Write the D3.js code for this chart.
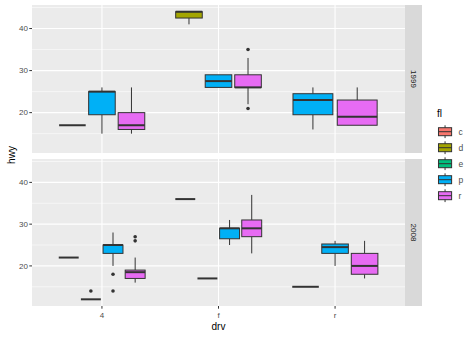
<!DOCTYPE html>
<html><head><meta charset="utf-8">
<script src="https://cdn.jsdelivr.net/npm/d3@7"></script>
<style>body{margin:0;background:#fff}svg{display:block;font-family:"Liberation Sans",Arial,sans-serif}</style>
</head><body>
<script>
// ---- data ----
const years = ["1999", "2008"];
const drvs = ["4", "f", "r"];
const fls = ["c", "d", "e", "p", "r"];
const flColors = ["#F8766D", "#A3A500", "#00BF7D", "#00B0F6", "#E76BF3"];
const yTicks = [20, 30, 40];
const yMinorTicks = [15, 25, 35, 45];
const yDomain = [10.4, 45.6];

const boxYear = ["1999","1999","1999","1999","1999","1999","1999","1999",
                 "2008","2008","2008","2008","2008","2008","2008","2008","2008","2008","2008"];
const boxDrv  = ["4","4","4","f","f","f","r","r",
                 "4","4","4","4","f","f","f","f","r","r","r"];
const boxFl   = ["d","p","r","d","p","r","p","r",
                 "d","e","p","r","c","e","p","r","e","p","r"];
const boxMin  = [17, 15, 15, 41, 26, 22, 16, 17,   22, 12, 20, 16, 36, 17, 25, 23, 15, 20, 17];
const boxQ1   = [17, 19.5, 16, 42.5, 26, 26, 19.5, 17,   22, 12, 23, 17, 36, 17, 26.5, 27, 15, 23, 18];
const boxMed  = [17, 25, 17, 44, 27.5, 26, 23, 19,   22, 12, 25, 18.5, 36, 17, 29, 29, 15, 24.5, 20];
const boxQ3   = [17, 25, 20, 44, 29, 29, 24.5, 23,   22, 12, 25, 19, 36, 17, 29, 31, 15, 25.25, 23];
const boxMax  = [17, 26, 26, 44, 29, 33, 26, 26,   22, 12, 28, 22, 36, 17, 31, 37, 15, 26, 26];
const boxOut  = [[], [], [], [], [], [35, 21], [], [],
                 [], [14], [18, 14], [26, 27], [], [], [], [], [], [], []];

// ---- layout ----
const W = 474, H = 338;
const panelX = [32, 405];
const panelsY = [[5, 153], [159, 306]];
const stripW = 17;
const dodgeWidth = 0.76;
const gray20 = "#333333", gray30 = "#4d4d4d";

const svg = d3.select("body").append("svg").attr("width", W).attr("height", H);
const x = d3.scaleLinear().domain([0.4, 3.6]).range(panelX);

const boxes = boxYear.map((yr, i) => ({
  yr, drv: boxDrv[i], fl: boxFl[i], min: boxMin[i], q1: boxQ1[i], med: boxMed[i],
  q3: boxQ3[i], max: boxMax[i], out: boxOut[i]
}));

years.forEach((yr, pi) => {
  const [top, bot] = panelsY[pi];
  const y = d3.scaleLinear().domain(yDomain).range([bot, top]);
  const g = svg.append("g");
  g.append("rect").attr("x", panelX[0]).attr("y", top).attr("width", panelX[1] - panelX[0])
    .attr("height", bot - top).attr("fill", "#ebebeb");
  g.selectAll(".minor").data(yMinorTicks.filter(v => v > yDomain[0] && v < yDomain[1])).join("line")
    .attr("x1", panelX[0]).attr("x2", panelX[1]).attr("y1", d => y(d)).attr("y2", d => y(d))
    .attr("stroke", "#fff").attr("stroke-width", 0.55);
  g.selectAll(".major").data(yTicks).join("line")
    .attr("x1", panelX[0]).attr("x2", panelX[1]).attr("y1", d => y(d)).attr("y2", d => y(d))
    .attr("stroke", "#fff").attr("stroke-width", 1.1);
  g.selectAll(".vmajor").data(drvs).join("line")
    .attr("x1", (d, i) => x(i + 1)).attr("x2", (d, i) => x(i + 1)).attr("y1", top).attr("y2", bot)
    .attr("stroke", "#fff").attr("stroke-width", 1.1);

  // boxes
  drvs.forEach((dv, di) => {
    const grp = boxes.filter(b => b.yr === yr && b.drv === dv)
      .sort((a, b) => fls.indexOf(a.fl) - fls.indexOf(b.fl));
    const n = grp.length;
    const slot = dodgeWidth / n;
    grp.forEach((b, k) => {
      const cx = di + 1 - dodgeWidth / 2 + slot * (k + 0.5);
      const bw = slot * 0.9;
      const x0 = x(cx - bw / 2), x1 = x(cx + bw / 2), xc = x(cx);
      const col = flColors[fls.indexOf(b.fl)];
      g.append("line").attr("x1", xc).attr("x2", xc).attr("y1", y(b.q3)).attr("y2", y(b.max))
        .attr("stroke", gray20).attr("stroke-width", 1);
      g.append("line").attr("x1", xc).attr("x2", xc).attr("y1", y(b.q1)).attr("y2", y(b.min))
        .attr("stroke", gray20).attr("stroke-width", 1);
      g.append("rect").attr("x", x0).attr("y", y(b.q3)).attr("width", x1 - x0)
        .attr("height", Math.max(0, y(b.q1) - y(b.q3))).attr("fill", col)
        .attr("stroke", gray20).attr("stroke-width", 1);
      g.append("line").attr("x1", x0).attr("x2", x1).attr("y1", y(b.med)).attr("y2", y(b.med))
        .attr("stroke", gray20).attr("stroke-width", 2);
      g.selectAll(null).data(b.out).join("circle")
        .attr("cx", xc).attr("cy", d => y(d)).attr("r", 1.8).attr("fill", gray20);
    });
  });

  // y axis
  g.selectAll(".yt").data(yTicks).join("line")
    .attr("x1", panelX[0] - 2.7).attr("x2", panelX[0]).attr("y1", d => y(d)).attr("y2", d => y(d))
    .attr("stroke", gray20).attr("stroke-width", 1);
  g.selectAll(".yl").data(yTicks).join("text")
    .attr("x", panelX[0] - 4).attr("y", d => y(d)).attr("dy", "0.35em")
    .attr("text-anchor", "end").attr("font-size", 8).attr("fill", gray30).text(d => d);

  // strip
  g.append("rect").attr("x", panelX[1]).attr("y", top).attr("width", stripW).attr("height", bot - top)
    .attr("fill", "#d9d9d9");
  const sx = panelX[1] + stripW / 2, sy = (top + bot) / 2;
  g.append("text").attr("transform", `translate(${sx},${sy}) rotate(90)`)
    .attr("text-anchor", "middle").attr("dy", "0.35em").attr("font-size", 8)
    .attr("fill", "#1a1a1a").text(yr);
});

// x axis
const xb = panelsY[1][1];
svg.selectAll(".xt").data(drvs).join("line")
  .attr("x1", (d, i) => x(i + 1)).attr("x2", (d, i) => x(i + 1)).attr("y1", xb).attr("y2", xb + 2.7)
  .attr("stroke", gray20).attr("stroke-width", 1);
svg.selectAll(".xl").data(drvs).join("text")
  .attr("x", (d, i) => x(i + 1)).attr("y", xb + 12).attr("text-anchor", "middle")
  .attr("font-size", 8).attr("fill", gray30).text(d => d);

svg.append("text").attr("x", x(2)).attr("y", 330).attr("text-anchor", "middle")
  .attr("font-size", 10).attr("fill", "#000").text("drv");
svg.append("text").attr("transform", "translate(11,155) rotate(-90)")
  .attr("text-anchor", "middle").attr("dy", "0.35em").attr("font-size", 10).attr("fill", "#000").text("hwy");

// legend
const lg = svg.append("g");
lg.append("text").attr("x", 437).attr("y", 117).attr("font-size", 10).attr("fill", "#000").text("fl");
const keyW = 17.5, keyH = 16, keyX = 436.3, keyY0 = 123.7;
fls.forEach((f, i) => {
  const ky = keyY0 + i * keyH;
  const cx = keyX + keyW / 2;
  lg.append("line").attr("x1", cx).attr("x2", cx).attr("y1", ky + keyH * 0.1).attr("y2", ky + keyH * 0.9)
    .attr("stroke", gray20).attr("stroke-width", 1);
  lg.append("rect").attr("x", keyX + keyW * 0.125).attr("y", ky + keyH * 0.25)
    .attr("width", keyW * 0.75).attr("height", keyH * 0.5)
    .attr("fill", flColors[i]).attr("stroke", gray20).attr("stroke-width", 1);
  lg.append("line").attr("x1", keyX + keyW * 0.125).attr("x2", keyX + keyW * 0.875)
    .attr("y1", ky + keyH / 2).attr("y2", ky + keyH / 2).attr("stroke", gray20).attr("stroke-width", 1);
  lg.append("text").attr("x", 458.5).attr("y", ky + keyH / 2).attr("dy", "0.35em")
    .attr("font-size", 8.5).attr("fill", gray30).text(f);
});
</script>
</body></html>
